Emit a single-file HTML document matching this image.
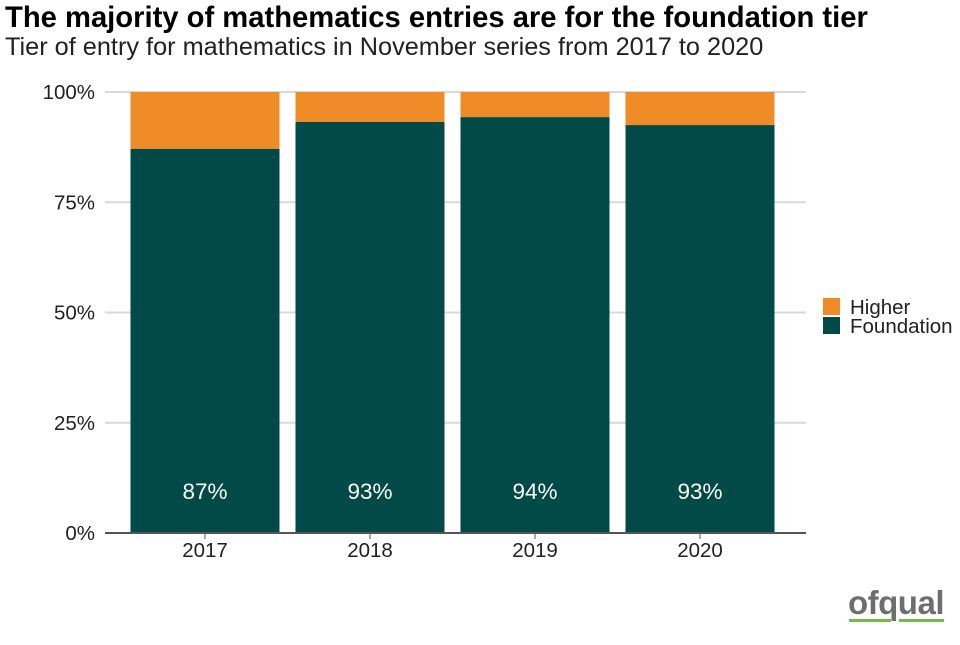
<!DOCTYPE html>
<html><head><meta charset="utf-8"><style>
body{margin:0;background:#fff;width:960px;height:640px;overflow:hidden;font-family:"Liberation Sans",Arial,sans-serif}
</style></head><body>
<svg width="960" height="640" xmlns="http://www.w3.org/2000/svg">
<text x="5" y="27" font-size="29.2" font-weight="bold" fill="#000">The majority of mathematics entries are for the foundation tier</text>
<text x="5" y="55" font-size="25.3" fill="#222">Tier of entry for mathematics in November series from 2017 to 2020</text>
<g id="grid"></g><g id="bars"></g><g id="axes"></g>
<g>
<rect x="823" y="298" width="17" height="17" fill="#f08c28"/>
<text x="850" y="314" font-size="20.5" fill="#222">Higher</text>
<rect x="823" y="317" width="17" height="17" fill="#014a48"/>
<text x="850" y="333" font-size="20.5" fill="#222">Foundation</text>
</g>
<g>
<text x="848" y="614" font-size="33" font-weight="bold" fill="#6e6e6e" letter-spacing="-0.5">ofqual</text>
<rect x="849" y="619" width="42" height="3" fill="#7ab648"/>
<rect x="899" y="619" width="45" height="3" fill="#7ab648"/>
</g>
</svg>
<script>
const categories=["2017","2018","2019","2020"];
const foundation=[87.1,93.2,94.3,92.5];
const labels=["87%","93%","94%","93%"];
const ticks=[0,25,50,75,100];
const ns="http://www.w3.org/2000/svg";
const X0=105,X1=806,Y0=533,Y100=92;
const y=v=>Y0-(Y0-Y100)*v/100;
const band=165, bandStart=122.5;
const bw=149;
const xc=i=>bandStart+band*(i+0.5);
function mk(tag,attrs,parent,txt){const e=document.createElementNS(ns,tag);for(const k in attrs)e.setAttribute(k,attrs[k]);if(txt!==undefined)e.textContent=txt;document.getElementById(parent).appendChild(e);return e;}
ticks.forEach(t=>{
 const l=mk("line",{x1:X0,x2:X1,y1:y(t),y2:y(t),stroke:"#d9d9d9","stroke-width":2},"grid");
 
 
 const tx=mk("text",{x:95,y:y(t)+7,"font-size":20.5,fill:"#222","text-anchor":"end"},"axes",t+"%");
 
 
});
categories.forEach((c,i)=>{
 const x=xc(i)-bw/2;
 const h=mk("rect",{x:x,y:y(100),width:bw,height:y(foundation[i])-y(100),fill:"#f08c28"},"bars");
 
 
 const f=mk("rect",{x:x,y:y(foundation[i]),width:bw,height:Y0-y(foundation[i]),fill:"#014a48"},"bars");
 
 
 const lb=mk("text",{x:xc(i),y:499,"font-size":22.5,fill:"#fff","text-anchor":"middle"},"bars",labels[i]);
 
 
 const tk=mk("line",{x1:xc(i),x2:xc(i),y1:Y0,y2:Y0+6,stroke:"#555","stroke-width":1},"axes");
 
 
 const xl=mk("text",{x:xc(i),y:557,"font-size":20.5,fill:"#222","text-anchor":"middle"},"axes",c);
 
 
});
const ax=mk("line",{x1:X0,x2:X1,y1:Y0,y2:Y0,stroke:"#555","stroke-width":2},"axes");


</script>
</body></html>
